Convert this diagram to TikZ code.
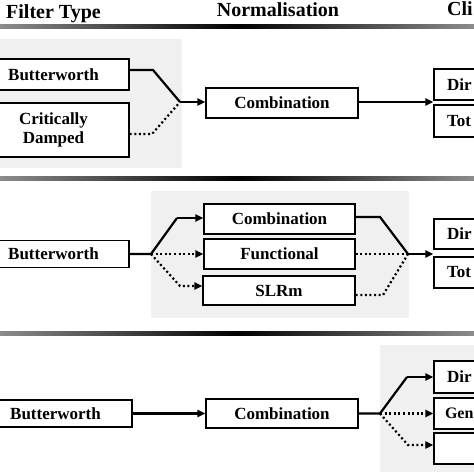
\documentclass[tikz,border=0pt]{standalone}
\usepackage{fontspec}
\setmainfont{Liberation Serif}
\usetikzlibrary{arrows.meta}
\definecolor{panelgray}{HTML}{F0F0F0}
\begin{document}
\begin{tikzpicture}[x=1pt,y=-1pt,
  box/.style={draw,line width=1.3pt,fill=white,minimum width=151pt,inner sep=0pt,
    font=\fontsize{17}{19}\selectfont\bfseries,align=center},
  rbox/.style={draw,line width=1.3pt,fill=white,inner ysep=0pt,inner xsep=13pt,
    text width=125pt,align=left,font=\fontsize{17}{19}\selectfont\bfseries},
  title/.style={font=\fontsize{20}{22}\selectfont\bfseries,inner sep=0pt},
  link/.style={line width=2.2pt},
  dots/.style={line width=2.2pt,dash pattern=on 2pt off 2.6pt},
  tip/.style={-{Triangle[length=8pt,width=7pt]}},
  panel/.style={fill=panelgray,draw=none},
  sep/.style={left color=black!45,right color=black!45,middle color=black}]
\useasboundingbox (0,0) rectangle (474,474);
\clip (0,0) rectangle (474,474);

% titles
\node[title,anchor=base west] (t1) at (6,18.5) {Filter Type};
\node[title,anchor=base] (t2) at (278,16) {Normalisation};
\node[title,anchor=base west] (t3) at (447,15.5) {Cli};

% separators
\shade[sep] (0,24.5) rectangle (474,28.5);
\shade[sep] (0,176.5) rectangle (474,180.5);
\shade[sep] (0,331.5) rectangle (474,335.5);

% panel backgrounds
\fill[panel] (-2,39) rectangle (182,168);
\fill[panel] (151,191) rectangle (409,318);
\fill[panel] (380,345) rectangle (476,472);

% ---- panel 1
\node[box,minimum height=31pt] (bw1) at (53.5,74.5) {Butterworth};
\node[box,minimum height=54pt] (cd) at (53.5,130) {Critically\\Damped};
\node[box,minimum width=152pt,minimum height=30pt] (comb1) at (282,103) {Combination};
\node[rbox,minimum height=31pt] (dir1) at (509.5,84.5) {Dir};
\node[rbox,minimum height=32pt] (tot1) at (509.5,121) {Tot};

\coordinate (p1a) at (153,70);
\coordinate (p1m) at (180,102);
\coordinate (p1b) at (152,134);
\draw[link] (bw1.east |- p1a) -- (p1a) -- (p1m);
\draw[dots] (cd.east |- p1b) -- (p1b) -- (p1m);
\draw[link,tip] (p1m) -- (comb1.west |- p1m);
\draw[link,tip] (comb1.east |- p1m) -- (dir1.west |- p1m);

% ---- panel 2
\node[box,minimum height=27pt] (bw2) at (53.5,254) {Butterworth};
\node[box,minimum height=30pt] (comb2) at (279.5,219) {Combination};
\node[box,minimum height=30pt] (func) at (279.5,254) {Functional};
\node[box,minimum width=152pt,minimum height=29pt] (slrm) at (279,290.5) {SLRm};
\node[rbox,minimum height=30pt] (dir2) at (509.5,234) {Dir};
\node[rbox,minimum height=31pt] (tot2) at (509.5,272.5) {Tot};

\coordinate (q1) at (151,254);
\coordinate (q2) at (177,218);
\coordinate (q3) at (180,286);
\draw[link] (bw2.east |- q1) -- (q1) -- (q2);
\draw[link,tip] (q2) -- (comb2.west |- q2);
\draw[dots,tip] (q1) -- (func.west |- q1);
\draw[dots,tip] (q1) -- (q3) -- (slrm.west |- q3);

\coordinate (r1) at (380,217);
\coordinate (r2) at (408,254);
\coordinate (r3) at (383,295);
\draw[link] (comb2.east |- r1) -- (r1) -- (r2);
\draw[dots] (func.east |- r2) -- (r2);
\draw[dots] (slrm.east |- r3) -- (r3) -- (r2);
\draw[link,tip] (r2) -- (dir2.west |- r2);

% ---- panel 3
\node[box,minimum width=153pt,minimum height=27pt] (bw3) at (55.5,413.5) {Butterworth};
\node[box,minimum width=152pt,minimum height=29pt] (comb3) at (282,413.5) {Combination};
\node[rbox,minimum height=32pt] (dir3) at (509.5,377) {Dir};
\node[rbox,minimum height=31pt,inner xsep=11pt,text width=129pt,
  font=\fontsize{16}{18}\selectfont\bfseries] (gen3) at (509.5,413.5) {Gen};
\node[rbox,minimum height=31pt] (box3) at (509.5,448.5) {};

\draw[link,tip] (bw3.east) -- (comb3.west);
\coordinate (s1) at (380,413.5);
\coordinate (s2) at (407,377);
\coordinate (s3) at (408,445);
\draw[link] (comb3.east) -- (s1) -- (s2);
\draw[link,tip] (s2) -- (dir3.west);
\draw[dots,tip] (s1) -- (gen3.west);
\draw[dots,tip] (s1) -- (s3) -- (box3.west |- s3);
\end{tikzpicture}
\end{document}
